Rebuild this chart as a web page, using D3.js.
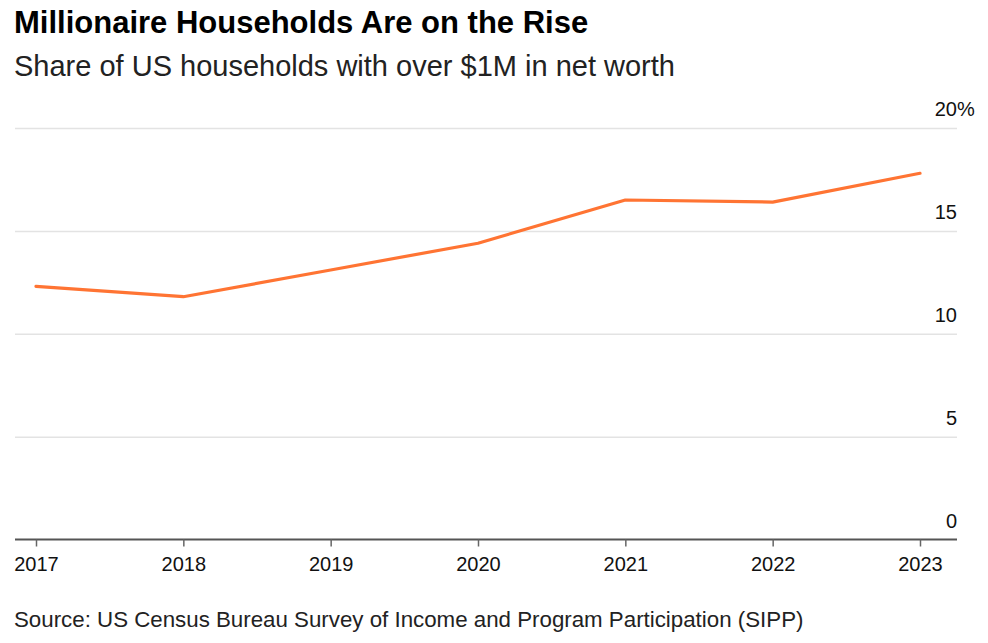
<!DOCTYPE html>
<html>
<head>
<meta charset="utf-8">
<script src="https://cdn.jsdelivr.net/npm/d3@7"></script>
<style>
  body { margin: 0; background: #fff; font-family: "Liberation Sans", Arial, sans-serif; }
  .title { font-weight: bold; font-size: 31px; fill: #000; }
  .subtitle { font-size: 29px; fill: #222; }
  .source { font-size: 22.3px; fill: #222; }
  .tick text, .pct { font-size: 20px; fill: #111; font-family: "Liberation Sans", Arial, sans-serif; }
</style>
</head>
<body>
<div id="chart"></div>
<script>
// data
const years = [2017, 2018, 2019, 2020, 2021, 2022, 2023];
const shares = [12.3, 11.8, 13.1, 14.4, 16.5, 16.4, 17.8];
const yTicks = [0, 5, 10, 15, 20];

const width = 988, height = 643;
const margin = {top: 128, right: 31, bottom: 104, left: 15};

const svg = d3.select("#chart").append("svg")
    .attr("width", width)
    .attr("height", height);

svg.append("text").attr("class", "title")
    .attr("x", 14).attr("y", 33)
    .text("Millionaire Households Are on the Rise");

svg.append("text").attr("class", "subtitle")
    .attr("x", 14).attr("y", 76)
    .text("Share of US households with over $1M in net worth");

svg.append("text").attr("class", "source")
    .attr("x", 14).attr("y", 627)
    .text("Source: US Census Bureau Survey of Income and Program Participation (SIPP)");

const innerW = width - margin.left - margin.right;
const innerH = height - margin.top - margin.bottom;

const g = svg.append("g")
    .attr("transform", "translate(" + margin.left + "," + margin.top + ")");

// x positions: first and last year sit inside the axis line
let x = d3.scalePoint()
    .domain(years)
    .range([21, innerW - 37]);

let y = d3.scaleLinear()
    .domain([0, 20])
    .range([innerH + 0.5, 0]);

// gridlines + right side labels
const yAxis = g.append("g")
    .attr("transform", "translate(" + innerW + ",0)")
    .call(d3.axisLeft(y)
        .tickValues(yTicks)
        .tickSize(innerW));
yAxis.select(".domain").remove();
yAxis.selectAll(".tick line")
    .attr("stroke-width", 1.5)
    .attr("stroke", d => d === 0 ? "none" : "#e3e3e3");
yAxis.selectAll(".tick text")
    .attr("x", 0)
    .attr("dy", "-0.62em")
    .attr("text-anchor", "end");
// "%" hangs past the end of the top gridline
yAxis.selectAll(".tick").filter(d => d === 20)
    .append("text")
    .attr("class", "pct")
    .attr("x", 0)
    .attr("dy", "-0.62em")
    .attr("text-anchor", "start")
    .text("%");

// bottom axis
const xAxis = g.append("g")
    .attr("transform", "translate(0," + y(0) + ")")
    .call(d3.axisBottom(x).tickSize(7).tickPadding(10).tickFormat(d3.format("d")));
xAxis.select(".domain")
    .attr("d", "M0,0H" + innerW)
    .attr("stroke", "#555")
    .attr("stroke-width", 2);
xAxis.selectAll(".tick line")
    .attr("stroke", "#666")
    .attr("stroke-width", 1.5);

// the line
const line = d3.line()
    .x((d, i) => x(years[i]))
    .y(d => y(d));

g.append("path")
    .datum(shares)
    .attr("fill", "none")
    .attr("stroke", "#ff7433")
    .attr("stroke-width", 3.2)
    .attr("stroke-linejoin", "round")
    .attr("stroke-linecap", "round")
    .attr("d", line);
</script>
</body>
</html>
